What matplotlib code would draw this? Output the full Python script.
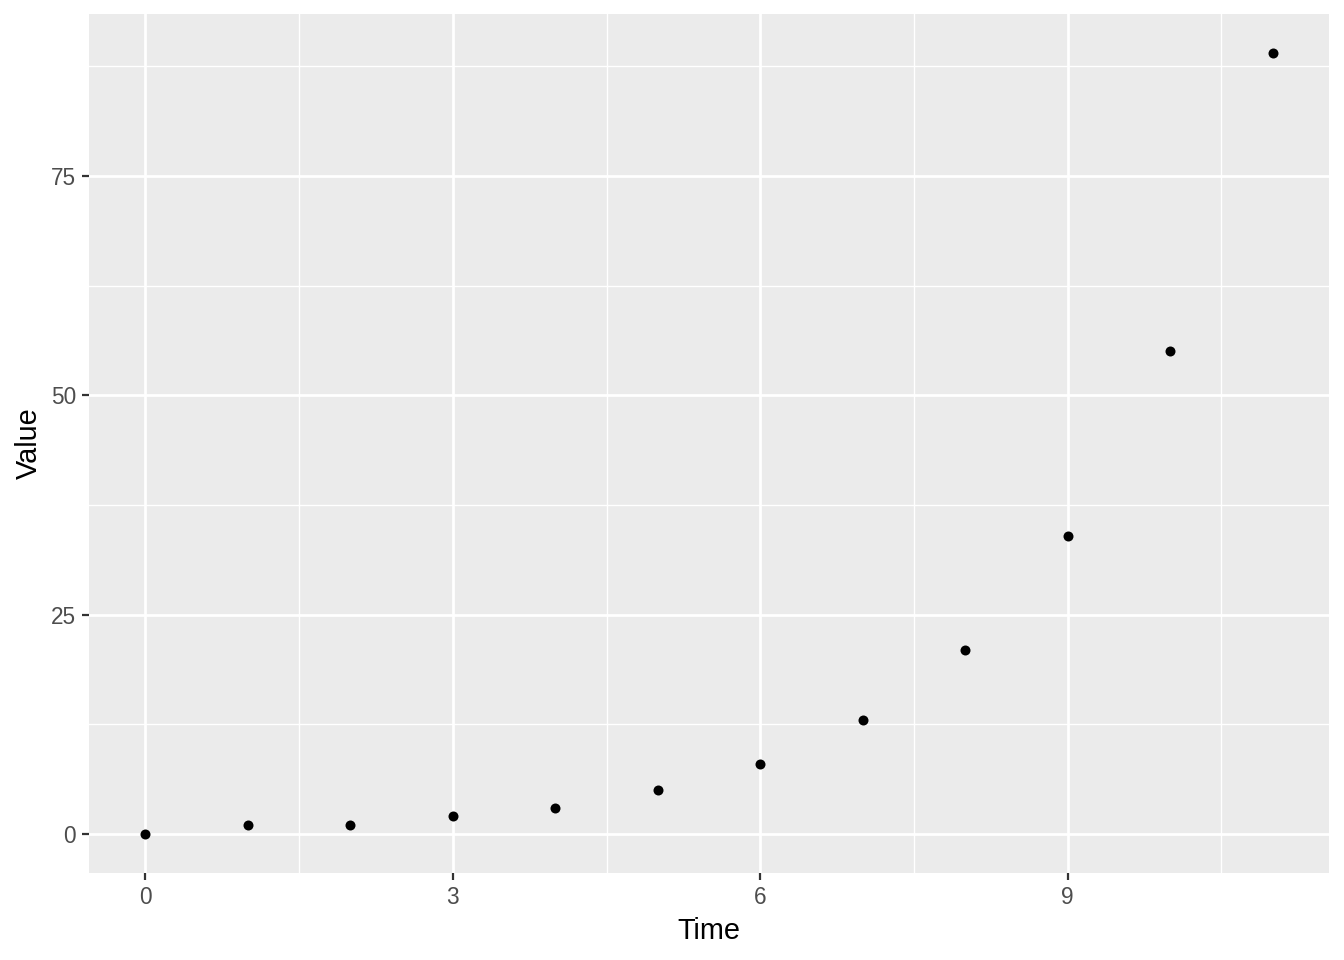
import matplotlib
matplotlib.use("Agg")
import matplotlib.pyplot as plt
from matplotlib.ticker import FixedLocator

time = [0, 1, 2, 3, 4, 5, 6, 7, 8, 9, 10, 11]
value = [0, 1, 1, 2, 3, 5, 8, 13, 21, 34, 55, 89]
x_ticks = [0, 3, 6, 9]
y_ticks = [0, 25, 50, 75]
x_minor = [1.5, 4.5, 7.5, 10.5]
y_minor = [12.5, 37.5, 62.5, 87.5]

plt.rcParams['font.family'] = ['Liberation Sans', 'DejaVu Sans']

fig = plt.figure(figsize=(13.44, 9.6), dpi=100)
ax = fig.add_axes([89/1344, 87/960, (1329-89)/1344, (873-14)/960])
ax.set_facecolor('#EBEBEB')
for s in ax.spines.values():
    s.set_visible(False)

xr = max(time) - min(time)
yr = max(value) - min(value)
ax.set_xlim(min(time) - 0.05*xr, max(time) + 0.05*xr)
ax.set_ylim(min(value) - 0.05*yr, max(value) + 0.05*yr)

ax.xaxis.set_major_locator(FixedLocator(x_ticks))
ax.yaxis.set_major_locator(FixedLocator(y_ticks))
ax.xaxis.set_minor_locator(FixedLocator(x_minor))
ax.yaxis.set_minor_locator(FixedLocator(y_minor))
ax.grid(which='major', color='white', linewidth=2.0)
ax.grid(which='minor', color='white', linewidth=1.0)
ax.set_axisbelow(True)

ax.tick_params(which='major', length=5.2, width=1.6, color='#333333',
               labelsize=16.3, labelcolor='#4D4D4D', pad=4)
ax.tick_params(which='minor', length=0)

ax.scatter(time, value, s=7.2**2, color='black', zorder=3, linewidths=0)

ax.set_xlabel('Time', fontsize=20.8, color='black', labelpad=6)
ax.set_ylabel('Value', fontsize=20.8, color='black', labelpad=6)

fig.savefig('out.png', dpi=100, facecolor='white')
